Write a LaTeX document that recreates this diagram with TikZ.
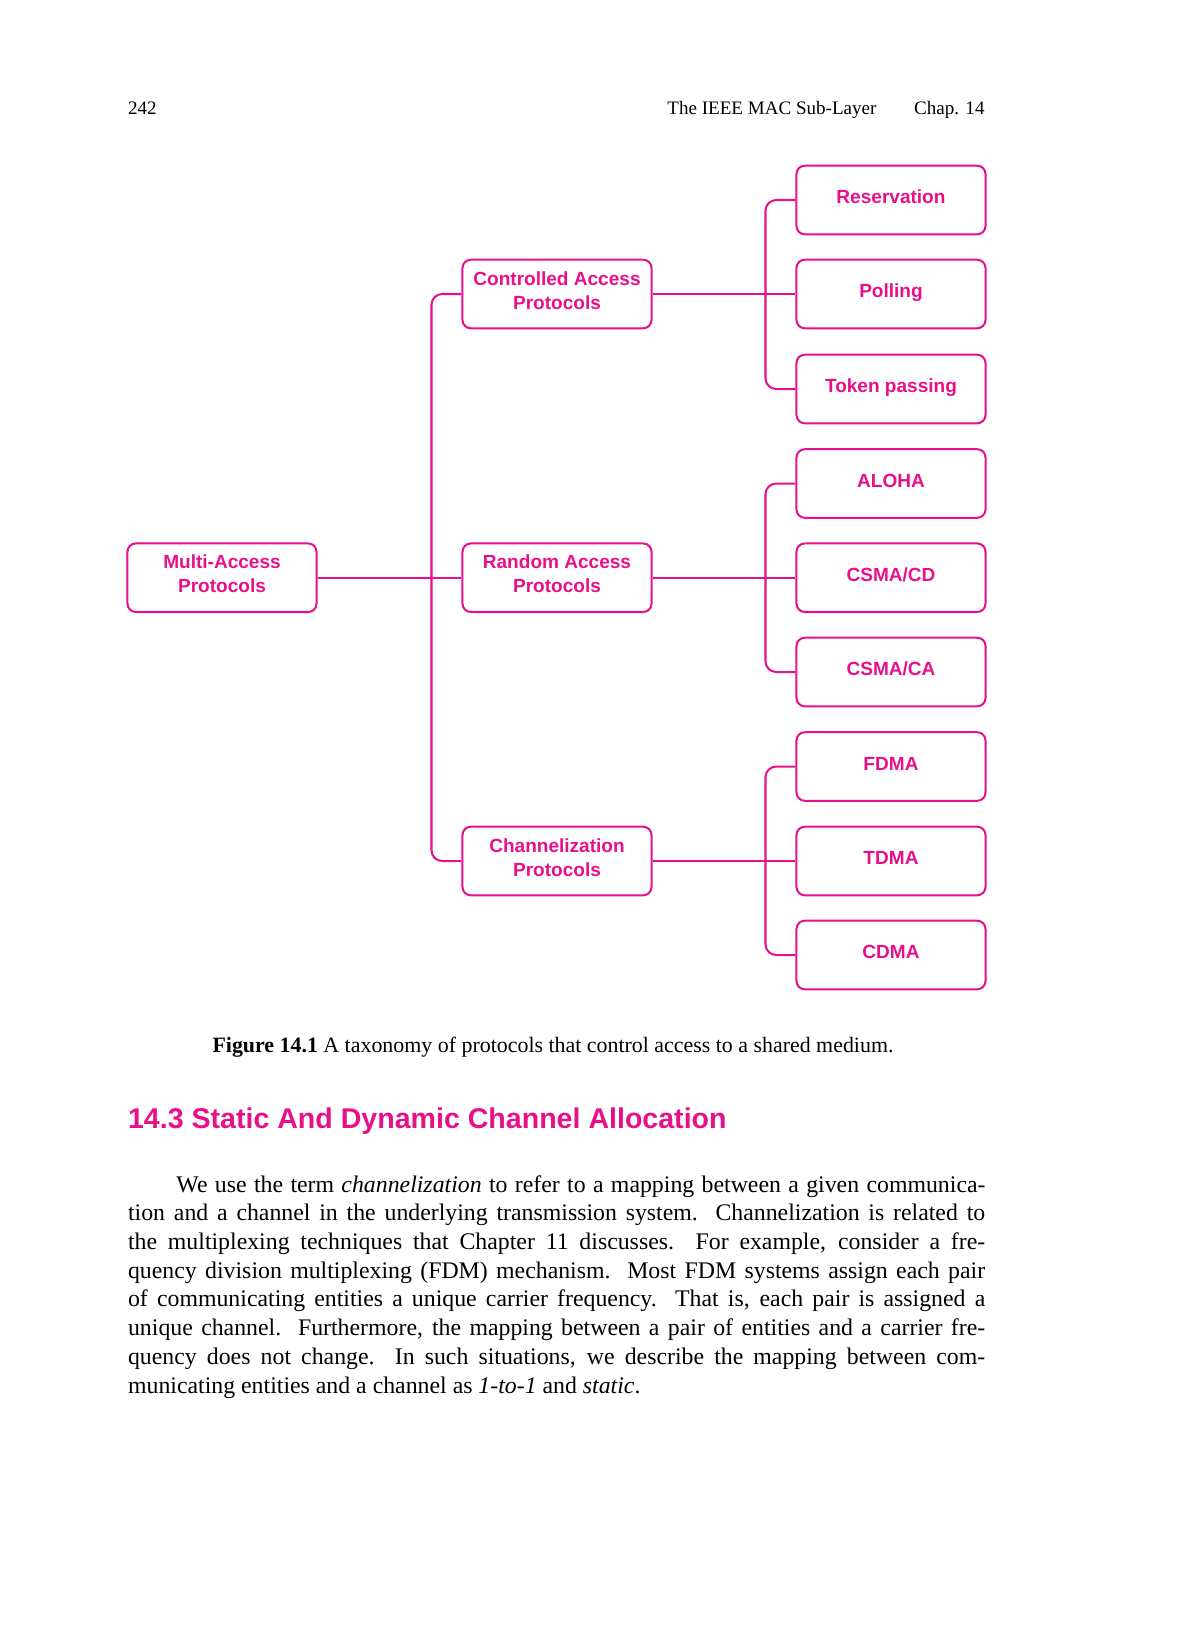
\documentclass[tikz,border=0pt]{standalone}
\usepackage{fontspec}
\setmainfont{Liberation Serif}
\newfontfamily\hv{Liberation Sans}
\definecolor{pk}{RGB}{232,16,138}
\begin{document}
\begin{tikzpicture}[x=0.42pt,y=-0.42pt,
  box/.style={draw=pk, line width=0.85pt, rounded corners=3.5pt, minimum width=79.4pt, minimum height=28.8pt,
    inner sep=0pt, align=center, text=pk, font=\hv\bfseries\fontsize{8}{10}\selectfont,
    text height=5.9pt, text depth=2.9pt},
  box2/.style={box, text height=15.9pt, text depth=3.3pt},
  conn/.style={draw=pk, line width=0.85pt, rounded corners=4.5pt},
  hdr/.style={inner sep=0pt, font=\fontsize{8}{10}\selectfont},
  body/.style={anchor=base west, inner sep=0pt, font=\fontsize{10}{12}\selectfont}]
\useasboundingbox (0,0) rectangle (1200,1626);
% header
\node[hdr, anchor=base west] (pg) at (127.6,114) {242};
\node[hdr, anchor=base west] (rt) at (667,114) {The IEEE MAC Sub-Layer};
\node[hdr, anchor=base east] (ch) at (985,114) {Chap. 14};
% boxes
\node[box2] (multi) at (222,577.7) {Multi-Access\\Protocols};
\node[box2] (ctrl) at (557,294) {Controlled Access\\Protocols};
\node[box2] (rand) at (557,577.7) {Random Access\\Protocols};
\node[box2] (chan) at (557,861) {Channelization\\Protocols};
\node[box] (res) at (891,200) {Reservation};
\node[box] (pol) at (891,294) {Polling};
\node[box] (tok) at (891,389) {Token passing};
\node[box] (alo) at (891,483.5) {ALOHA};
\node[box] (cd) at (891,577.7) {CSMA/CD};
\node[box] (ca) at (891,672) {CSMA/CA};
\node[box] (fd) at (891,766.5) {FDMA};
\node[box] (td) at (891,861) {TDMA};
\node[box] (cdm) at (891,955) {CDMA};
\coordinate (tx) at (431.5,0);
\coordinate (rx) at (765.5,0);
% connectors
\draw[conn] (multi.east) -- (rand.west);
\draw[conn] (ctrl.west) -- (ctrl.west -| tx) -- (chan.west -| tx) -- (chan.west);
\draw[conn] (ctrl.east) -- (pol.west);
\draw[conn] (res.west) -- (res.west -| rx) -- (tok.west -| rx) -- (tok.west);
\draw[conn] (rand.east) -- (cd.west);
\draw[conn] (alo.west) -- (alo.west -| rx) -- (ca.west -| rx) -- (ca.west);
\draw[conn] (chan.east) -- (td.west);
\draw[conn] (fd.west) -- (fd.west -| rx) -- (cdm.west -| rx) -- (cdm.west);
% caption
\node[anchor=base, inner sep=0pt, font=\fontsize{9.2}{11}\selectfont] (cap) at (553,1052) {\textbf{Figure 14.1} A taxonomy of protocols that control access to a shared medium.};
% heading
\node[anchor=base west, inner sep=0pt, text=pk, font=\hv\bfseries\fontsize{12}{14}\selectfont] (hd) at (127.6,1128) {14.3 Static And Dynamic Channel Allocation};
% body
\node[body] (b1) at (176,1192) {\makebox[339.8pt][s]{We use the term \textit{channelization} to refer to a mapping between a given communica-}};
\node[body] (b2) at (127.6,1220.7) {\makebox[360pt][s]{tion and a channel in the underlying transmission system.\ \ Channelization is related to}};
\node[body] (b3) at (127.6,1249.4) {\makebox[360pt][s]{the multiplexing techniques that Chapter 11 discusses.\ \ For example, consider a fre-}};
\node[body] (b4) at (127.6,1278) {\makebox[360pt][s]{quency division multiplexing (FDM) mechanism.\ \ Most FDM systems assign each pair}};
\node[body] (b5) at (127.6,1306.8) {\makebox[360pt][s]{of communicating entities a unique carrier frequency.\ \ That is, each pair is assigned a}};
\node[body] (b6) at (127.6,1335.5) {\makebox[360pt][s]{unique channel.\ \ Furthermore, the mapping between a pair of entities and a carrier fre-}};
\node[body] (b7) at (127.6,1364) {\makebox[360pt][s]{quency does not change.\ \ In such situations, we describe the mapping between com-}};
\node[body] (b8) at (127.6,1393) {municating entities and a channel as \textit{1-to-1} and \textit{static}.};
\end{tikzpicture}
\end{document}
